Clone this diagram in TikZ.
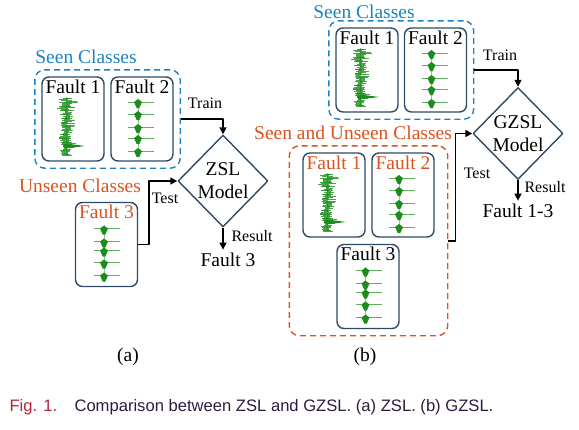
\documentclass[tikz,border=0pt]{standalone}
\usepackage{fontspec}
\setmainfont{Liberation Serif}
\newfontfamily\zscapfont{Liberation Sans}
\usetikzlibrary{arrows.meta,fit,positioning,shapes.geometric}
\definecolor{zsBlue}{HTML}{1F82C0}
\definecolor{zsOrange}{HTML}{D9541E}
\definecolor{zsFrame}{HTML}{2F4A66}
\definecolor{zsWave}{HTML}{1C8C1C}
\definecolor{zsCapRed}{HTML}{B3243A}
\definecolor{zsCapInk}{HTML}{2E1B3E}
\tikzset{
  zs diagram/.style={x=1pt, y=-1pt, font=\fontsize{19.5}{23}\selectfont,
    line join=round},
  zs fault/.style={draw=zsFrame, line width=1.4pt, rounded corners=7pt,
    minimum width=62pt, minimum height=84pt, inner sep=0pt},
  zs name/.style={inner sep=1pt},
  zs seen/.style={draw=zsBlue, dash pattern=on 6pt off 4pt, line width=1.4pt,
    rounded corners=10pt, inner sep=6.5pt},
  zs mixed/.style={zs seen, draw=zsOrange, inner xsep=13pt},
  zs model/.style={diamond, draw=zsFrame, line width=1.4pt, minimum width=90pt,
    minimum height=92pt, inner sep=0pt, align=center},
  zs arrow/.style={-{Triangle[length=7pt,width=7pt]}, line width=1.5pt},
  zs small/.style={font=\fontsize{16}{18}\selectfont},
  zs caption/.style={font=\zscapfont\fontsize{16.6}{18}\selectfont, anchor=west},
  noise wave/.pic={
    \pgfmathsetseed{#1}
    \draw[zsWave!60, line width=0.6pt] (0,-22) -- (0,36);
    \foreach \k in {0,...,72}{
      \pgfmathsetmacro{\zy}{\k*0.8-21}
      \pgfmathsetmacro{\zl}{1+4.5*rnd+3*(rnd>0.8)}
      \pgfmathsetmacro{\zr}{1+5*rnd+5*(rnd>0.85)}
      \pgfmathsetmacro{\zc}{1.2*sin(\k*20)}
      \draw[zsWave, line width=0.8pt, opacity=0.8] (\zc-\zl,\zy) -- (\zc+\zr,\zy);
    }
    \fill[zsWave] (-3,26) -- (0,24.5) -- (19,27) -- (0,29.5) -- (-3,28) -- cycle;
  },
  burst wave/.pic={
    \draw[zsWave!50, line width=0.6pt] (0,-20) -- (0,37);
    \foreach \b in {#1}{
      \draw[zsWave!70, line width=0.9pt] (-10,\b) -- (16,\b);
      \fill[zsWave] (-4,\b) -- (0,\b-3) -- (4,\b) -- (1.3,\b+6) -- (-1.3,\b+6) -- cycle;
    }
  }
}

\begin{document}
\begin{tikzpicture}[zs diagram]
\useasboundingbox (0,0) rectangle (579,429);
% (a) ZSL
\node[zs fault] (fA1) at (73,119) {};
\node[zs fault] (fA2) at (142,119) {};
\node[zs fault] (fA3) at (106.5,244.5) {};
\node[zs name, below=2pt of fA1.north] (nA1) {Fault 1};
\node[zs name, below=2pt of fA2.north] (nA2) {Fault 2};
\node[zs name, below=2pt of fA3.north, text=zsOrange] (nA3) {Fault 3};
\pic at ([xshift=-7pt]fA1.center) {noise wave=3};
\pic at ([xshift=-4pt]fA2.center) {burst wave={-17,-5,8,19,32}};
\pic at ([xshift=-2.5pt]fA3.center) {burst wave={-16,-3,6,18,31}};
\node[zs seen, fit=(fA1)(fA2)] (seenA) {};
\node[text=zsBlue] (tSeenA) at (86,57) {Seen Classes};
\node[text=zsOrange] (tUnseenA) at (80,186) {Unseen Classes};
\node[zs model] (zsl) at (223,181) {ZSL\\Model};
\draw[zs arrow] (seenA.east) -| (zsl.north);
\node[zs small] (trainA) at (205,103) {Train};
\draw[zs arrow] (fA3.east) -- ++(11,0) |- (zsl.west);
\node[zs small] (testA) at (165,198) {Test};
\node (resA) at (228,260) {Fault 3};
\draw[zs arrow] (zsl.south) -- (zsl.south |- resA.north);
\node[zs small] (resultA) at (252,236) {Result};
\node (capA) at (128,357) {(a)};
% (b) GZSL
\node[zs fault] (fB1) at (367,70) {};
\node[zs fault] (fB2) at (435.5,70) {};
\node[zs name, below=2pt of fB1.north] (nB1) {Fault 1};
\node[zs name, below=2pt of fB2.north] (nB2) {Fault 2};
\pic at ([xshift=-7pt]fB1.center) {noise wave=3};
\pic at ([xshift=-4pt]fB2.center) {burst wave={-17,-5,8,19,32}};
\node[zs seen, fit=(fB1)(fB2)] (seenB) {};
\node[text=zsBlue] (tSeenB) at (364,12) {Seen Classes};
\node[zs fault] (fC1) at (334,195) {};
\node[zs fault] (fC2) at (403,195) {};
\node[zs fault] (fC3) at (368,286.5) {};
\node[zs name, below=2pt of fC1.north, text=zsOrange] (nC1) {Fault 1};
\node[zs name, below=2pt of fC2.north, text=zsOrange] (nC2) {Fault 2};
\node[zs name, below=2pt of fC3.north] (nC3) {Fault 3};
\pic at ([xshift=-7pt]fC1.center) {noise wave=3};
\pic at ([xshift=-4pt]fC2.center) {burst wave={-17,-5,8,19,32}};
\pic at ([xshift=-2.5pt]fC3.center) {burst wave={-16,-3,6,18,31}};
\node[zs mixed, fit=(fC1)(fC2)(fC3)] (allB) {};
\node[text=zsOrange] (tAllB) at (353,133) {Seen and Unseen Classes};
\node[zs model] (gzsl) at (518,133.5) {GZSL\\Model};
\draw[zs arrow] (seenB.east) -| (gzsl.north);
\node[zs small] (trainB) at (500,55) {Train};
\draw[zs arrow] (allB.east) -- ++(7,0) |- (gzsl.west);
\node[zs small] (testB) at (477,173) {Test};
\node (resB) at (518,211) {Fault 1-3};
\draw[zs arrow] (gzsl.south) -- (gzsl.south |- resB.north);
\node[zs small] (resultB) at (545,187) {Result};
\node (capB) at (365,357) {(b)};
% caption
\node[zs caption, text=zsCapRed] (figno) at (6,407) {Fig. 1.};
\node[zs caption, text=zsCapInk] (figtext) at (71,407) {Comparison between ZSL and GZSL. (a) ZSL. (b) GZSL.};
\end{tikzpicture}
\end{document}
